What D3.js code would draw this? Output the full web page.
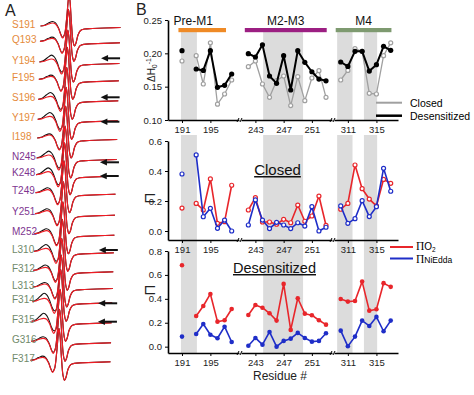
<!DOCTYPE html>
<html><head><meta charset="utf-8">
<script src="https://cdn.jsdelivr.net/npm/d3@7"></script>
<style>
body{margin:0;background:#fff}
svg{display:block}
text{font-family:"Liberation Sans",Arial,sans-serif}
</style>
</head><body>
<svg id="c" width="474" height="395"></svg>
<script>
// ---------------- DATA ----------------
const residues = [191,193,194,195,196,197,198,
  242,243,244,245,246,247,248,249,250,251,252,253,
  310,311,312,313,314,315,316,317];
const dH_closed = [0.1885,0.1965,0.154,0.2157,0.1237,0.139,0.160,
  0.180,0.1885,0.154,0.134,0.159,0.166,0.1216,0.165,0.129,0.163,0.174,0.134,
  0.160,0.1744,0.207,0.203,0.140,0.139,0.1965,0.2157];
const dH_desens = [0.204,0.1765,0.1744,0.204,0.149,0.152,0.169,
  0.1995,0.1945,0.2127,0.166,0.155,0.1965,0.145,0.204,0.1865,0.1724,0.1614,0.1588,
  0.187,0.1804,0.203,0.203,0.1734,0.183,0.2106,0.2045];
const piClosedO2 = [0.153,0.184,0.14,0.347,0.051,0.062,0.305,
  0.14,0.222,0.06,0.06,0.045,0.078,0.055,0.173,0.065,0.10,0.233,0.038,
  0.145,0.184,0.44,0.282,0.213,0.167,0.344,0.318];
const piClosedNi = [0.38,0.507,0.095,0.151,0.018,0.073,0.0,
  0.04,0.207,0.073,0.016,0.058,0.04,0.016,0.055,0.033,0.162,0.0,0.025,
  0.167,0.051,0.082,0.202,0.096,0.162,0.418,0.265];
const piDesO2 = [0.681,0.257,0.34,0.441,0.209,0.221,0.315,
  0.265,0.349,0.326,0.279,0.218,0.525,0.14,0.405,0.276,0.263,0.221,0.184,
  0.399,0.377,0.382,0.544,0.301,0.313,0.531,0.50];
const piDesNi = [0.084,0.106,0.19,0.10,0.07,0.167,0.039,
  0.008,0.073,0.017,0.123,0.0,0.048,0.067,0.115,0.073,0.042,0.048,0.112,
  0.134,0.003,0.084,0.218,0.173,0.249,0.129,0.218];
const xTickValues = [191,195,243,247,251,311,315];
const shadeRanges = [[190.85,193.1],[244.1,249.75],[309.5,311.65],[313.25,315.1]];
const regions = [["Pre-M1",190.5,197.2],["M2-M3",241.5,253.1],["M4",309.3,317.1]];
const yTicksTop = [0.10,0.15,0.20,0.25];
const yTicksMid = [0.0,0.2,0.4,0.6];
const yTicksBot = [0.0,0.2,0.4,0.6,0.8];

// panel A spectra
const specLabels = ["S191","Q193","Y194","F195","S196","Y197","I198",
  "N245","K248","T249","Y251","M252",
  "L310","F312","L313","F314","F315","G316","F317"];
const specGroup = [0,0,0,0,0,0,0,1,1,1,1,1,2,2,2,2,2,2,2];
const arrowRows = ["Y194","S196","Y197","N245","K248","L310","F314","F315"];
// reference lineshape (field offset, derivative amplitude)
const redShape = [[0,0],[4,-0.5],[8,-2],[12,-3],[15,-2],[18,2.5],[20,8],[22,12],[24,8.5],
  [26,-6],[27.5,-23],[28.5,-32],[29.5,-25],[31,-2],[32.5,15],[34,20],[35.5,17],
  [37.5,9],[40,4.5],[44,3],[52,2.5],[64,2],[80,1.5]];
// black (desensitized) deviation from red
const blackDev = [[0,0],[6,-1],[10,-3.5],[13,-4],[16,-2.5],[19,-1],[22,-2],[24,0],[80,0]];
const blackDevAmount = [0.4,0.3,1,0.3,1,1,0.3,1,1,0.5,0.5,0.5,1,0.6,0.4,1.3,1.3,0.4,0.3];

// ---------------- LAYOUT ----------------
const svg = d3.select("#c");
const RED="#e8262b", BLUE="#1f2ec8", GREY="#a0a0a0", SHADE="#dcdcdc";
const groupCols = ["#e58a3a","#7e3590","#6f8a6a"];
const barCols = ["#ef8a26","#9c1f82","#7e9a70"];

const segs = [
  {dom:[189.03,199.03], rng:[168,239]},
  {dom:[240.96,253.85], rng:[241,332]},
  {dom:[309.06,318.02], rng:[334,398]}];
const segScales = segs.map(s=>d3.scaleLinear().domain(s.dom).range(s.rng));
const segOf = r => r<220?0:(r<280?1:2);
const xs = r => segScales[segOf(r)](r);

const panels = [
  {y:d3.scaleLinear().domain([0.10,0.25]).range([120,20]), shadeTop:31.5, ticks:yTicksTop, fmt:d3.format(".2f")},
  {y:d3.scaleLinear().domain([-0.06,0.6]).range([240,141]), shadeTop:135, ticks:yTicksMid, fmt:d3.format(".1f")},
  {y:d3.scaleLinear().domain([-0.053,0.8]).range([353,251]), shadeTop:241, ticks:yTicksBot, fmt:d3.format(".1f")}
];

// shading
panels.forEach(p=>{
  const yb = p.y.range()[0];
  shadeRanges.forEach(([a,b])=>{
    svg.append("rect").attr("x",xs(a)).attr("y",p.shadeTop)
      .attr("width",xs(b)-xs(a)).attr("height",yb-p.shadeTop).attr("fill",SHADE);
  });
});

// axes
panels.forEach(p=>{
  const yb = p.y.range()[0];
  const ya = svg.append("g").attr("transform","translate(168,0)")
    .call(d3.axisLeft(p.y).tickValues(p.ticks).tickFormat(p.fmt).tickSize(3).tickSizeOuter(0));
  ya.select(".domain").attr("stroke","#000").attr("stroke-width",1.6);
  ya.selectAll("text").attr("font-size",9.5).attr("fill","#222")
    .attr("font-family","Liberation Sans, Arial, sans-serif");
  segScales.forEach((s,i)=>{
    const tv = xTickValues.filter(t=>segOf(t)===i);
    const g = svg.append("g").attr("transform",`translate(0,${yb})`)
      .call(d3.axisBottom(s).tickValues(tv).tickFormat(d3.format("d")).tickSize(3).tickSizeOuter(0));
    g.select(".domain").attr("stroke","#000").attr("stroke-width",1.6);
    g.selectAll("text").attr("font-size",9.5).attr("fill","#222")
      .attr("font-family","Liberation Sans, Arial, sans-serif");
  });
  // axis breaks
  [240,333].forEach(bx=>{
    svg.append("path").attr("d",`M${bx-3},${yb+2}L${bx-1},${yb-2}M${bx},${yb+2}L${bx+2},${yb-2}`)
      .attr("stroke","#000").attr("stroke-width",1).attr("fill","none");
  });
});

// region bars
regions.forEach(([name,a,b],i)=>{
  svg.append("rect").attr("x",xs(a)).attr("y",28).attr("width",xs(b)-xs(a)).attr("height",4.2)
    .attr("fill",barCols[i]);
  svg.append("text").attr("x",(xs(a)+xs(b))/2+ (i===0?-9:0)).attr("y",25).attr("text-anchor","middle")
    .attr("font-size",12).attr("fill","#111").text(name);
});

// series helper
function runs(vals){
  const out=[]; let cur=[];
  residues.forEach((r,i)=>{
    if(cur.length && r-residues[i-1]!==1){out.push(cur);cur=[];}
    cur.push([r,vals[i]]);
  });
  if(cur.length) out.push(cur);
  return out;
}
function drawSeries(p, vals, col, lw, rad, filled){
  const line = d3.line().x(d=>xs(d[0])).y(d=>p.y(d[1]));
  runs(vals).forEach(run=>{
    if(run.length>1) svg.append("path").attr("d",line(run)).attr("fill","none")
      .attr("stroke",col).attr("stroke-width",lw).attr("stroke-linejoin","round");
  });
  svg.append("g").selectAll("circle").data(residues.map((r,i)=>[r,vals[i]])).join("circle")
    .attr("cx",d=>xs(d[0])).attr("cy",d=>p.y(d[1])).attr("r",rad)
    .attr("fill",filled?col:"#fff").attr("stroke",col).attr("stroke-width",filled?0:1.2);
}
drawSeries(panels[0], dH_closed, GREY, 1.3, 2, false);
drawSeries(panels[0], dH_desens, "#000", 2, 2.6, true);
drawSeries(panels[1], piClosedO2, RED, 1.6, 2, false);
drawSeries(panels[1], piClosedNi, BLUE, 1.6, 2, false);
drawSeries(panels[2], piDesO2, RED, 1.6, 2.3, true);
drawSeries(panels[2], piDesNi, BLUE, 1.6, 2.3, true);

// top legend
svg.append("line").attr("x1",376).attr("x2",402).attr("y1",102.7).attr("y2",102.7).attr("stroke",GREY).attr("stroke-width",2);
svg.append("line").attr("x1",376).attr("x2",402).attr("y1",115.7).attr("y2",115.7).attr("stroke","#000").attr("stroke-width",2.5);
svg.append("text").attr("x",410).attr("y",106.5).attr("font-size",10.5).text("Closed");
svg.append("text").attr("x",410).attr("y",119.5).attr("font-size",10.5).text("Desensitized");

// bottom legend
svg.append("line").attr("x1",390).attr("x2",413).attr("y1",247).attr("y2",247).attr("stroke",RED).attr("stroke-width",2);
svg.append("line").attr("x1",390).attr("x2",413).attr("y1",258.5).attr("y2",258.5).attr("stroke",BLUE).attr("stroke-width",2);
const l1 = svg.append("text").attr("x",416).attr("y",250).attr("font-size",10);
l1.append("tspan").attr("font-family","Liberation Serif, DejaVu Serif, serif").attr("font-size",11.5).text("Π");
l1.append("tspan").text("O");
l1.append("tspan").attr("font-size",6.5).attr("dy",2).text("2");
const l2 = svg.append("text").attr("x",416).attr("y",263).attr("font-size",8.5);
l2.append("tspan").attr("font-family","Liberation Serif, DejaVu Serif, serif").attr("font-size",11.5).text("Π");
l2.append("tspan").text("NiEdda");

// titles
[["Closed",277.5,175,15],["Desensitized",274.5,273,14.5]].forEach(([t,x,y,fs])=>{
  svg.append("text").attr("x",x).attr("y",y).attr("text-anchor","middle")
    .attr("font-size",fs).attr("fill","#111").attr("text-decoration","underline").text(t);
});

// y labels
const yl = svg.append("text").attr("transform","translate(155,70) rotate(-90)")
  .attr("text-anchor","middle").attr("font-size",10).attr("fill","#222");
yl.append("tspan").text("ΔH");
yl.append("tspan").attr("font-size",7).attr("dy",2).text("0");
yl.append("tspan").attr("font-size",7).attr("dy",-6).text("-1");
[198,290].forEach(y=>{
  svg.append("text").attr("transform",`translate(155,${y}) rotate(-90)`).attr("text-anchor","middle")
    .attr("font-family","Liberation Serif, DejaVu Serif, serif").attr("font-size",15).attr("fill","#222").text("Π");
});

// residue label
svg.append("text").attr("x",280).attr("y",380).attr("text-anchor","middle").attr("font-size",12).attr("fill","#222").text("Residue #");

// panel letters
svg.append("text").attr("x",5).attr("y",16).attr("font-size",16).attr("fill","#222").text("A");
svg.append("text").attr("x",136).attr("y",15).attr("font-size",16).attr("fill","#222").text("B");

// ---------------- PANEL A ----------------
const rowY = [24,39.3,60,77.3,97.3,117.3,136,156,172.7,190.7,211.7,231.7,249.3,268.3,285,299.3,319.3,339.3,358.3];
const arrowY = {"Y194":58.3,"S196":97.3,"Y197":121.7,"N245":162.3,"K248":176,"L310":250,"F314":303.3,"F315":321.7};
const devInterp = d3.scaleLinear().domain(blackDev.map(d=>d[0])).range(blackDev.map(d=>d[1])).clamp(true);
const specLine = d3.line().curve(d3.curveCatmullRom.alpha(0.5));
const gA = svg.append("g");
specLabels.forEach((lab,i)=>{
  const y0 = rowY[i]+2;
  const x0 = 40.5 - 10*i/18;
  const redPts = redShape.map(([dx,dy])=>[x0+dx, y0+dy]);
  const blkPts = redShape.map(([dx,dy])=>[x0+dx, y0+dy+blackDevAmount[i]*devInterp(dx)]);
  gA.append("path").attr("d",specLine(blkPts)).attr("fill","none").attr("stroke","#111").attr("stroke-width",1.1);
  gA.append("path").attr("d",specLine(redPts)).attr("fill","none").attr("stroke","#ee1c24").attr("stroke-width",1.2);
});
specLabels.forEach((lab,i)=>{
  svg.append("text").attr("x",12).attr("y",rowY[i]+3.5).attr("font-size",10)
    .attr("fill",groupCols[specGroup[i]]).text(lab);
});
arrowRows.forEach(lab=>{
  const i = specLabels.indexOf(lab);
  const y = arrowY[lab];
  const xr = 120.5 - 4*i/18, xl = xr-19;
  svg.append("line").attr("x1",xl+5).attr("x2",xr).attr("y1",y).attr("y2",y).attr("stroke","#111").attr("stroke-width",2);
  svg.append("path").attr("d",`M${xl},${y}L${xl+7},${y-3.2}L${xl+7},${y+3.2}Z`).attr("fill","#111");
});
</script>
</body></html>
